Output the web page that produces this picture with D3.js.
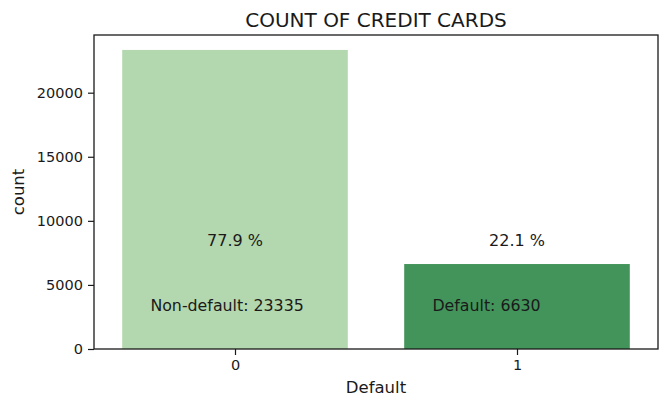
<!DOCTYPE html>
<html><head><meta charset="utf-8">
<script src="https://cdn.jsdelivr.net/npm/d3@7"></script>
<style>
body{margin:0;background:#fff;}
text{font-family:"DejaVu Sans",sans-serif;fill:#1a1a1a;}
</style></head>
<body><svg id="c" width="668" height="408"></svg>
<script>
const categories = ["0", "1"];
const counts = [23335, 6630];
const labels = ["Non-default", "Default"];
const percents = ["77.9 %", "22.1 %"];
const yTicks = [0, 5000, 10000, 15000, 20000];
const colors = ["#b3d7ae", "#43945a"];
const pctY = 8000, lblY = 3000;

const svg = d3.select("#c");
const m = {l:94, r:658, t:35, b:349};
const x = d3.scaleLinear().domain([-0.5, 1.5]).range([m.l, m.r]);
const y = d3.scaleLinear().domain([0, d3.max(counts)*1.05]).range([m.b, m.t]);

svg.selectAll("rect.bar").data(counts).join("rect")
  .attr("x", (d,i)=>x(i-0.4)).attr("width", (d,i)=>x(i+0.4)-x(i-0.4))
  .attr("y", d=>y(d)).attr("height", d=>y(0)-y(d))
  .attr("fill", (d,i)=>colors[i]);

// axes
const yAxis = d3.axisLeft(y).tickValues(yTicks).tickSize(6).tickPadding(5).tickFormat(d3.format("d"));
const gy = svg.append("g").attr("transform",`translate(${m.l},0)`).call(yAxis);
gy.attr("font-size", null).attr("font-family", null);
gy.select(".domain").remove();
gy.selectAll("line").attr("stroke","#1a1a1a").attr("stroke-width",1.2);
gy.selectAll("text").style("font-size","14.5px").style("fill","#1a1a1a");

const xAxis = d3.axisBottom(x).tickValues(categories.map((c,i)=>i)).tickFormat((d,i)=>categories[i]).tickSize(6).tickPadding(5);
const gx = svg.append("g").attr("transform",`translate(0,${m.b})`).call(xAxis);
gx.attr("font-size", null).attr("font-family", null);
gx.select(".domain").remove();
gx.selectAll("line").attr("stroke","#1a1a1a").attr("stroke-width",1.2);
gx.selectAll("text").style("font-size","14.5px").style("fill","#1a1a1a");

svg.append("rect").attr("x",m.l).attr("y",m.t).attr("width",m.r-m.l).attr("height",m.b-m.t)
  .attr("fill","none").attr("stroke","#1a1a1a").attr("stroke-width",1.3);

// annotations
svg.selectAll("text.pct").data(percents).join("text").attr("class","pct")
  .attr("x",(d,i)=>x(i)).attr("y",y(pctY)).attr("text-anchor","middle")
  .style("font-size","16px").text(d=>d);
svg.selectAll("text.lbl").data(counts).join("text").attr("class","lbl")
  .attr("x",(d,i)=>x(i-0.3)).attr("y",y(lblY)).attr("text-anchor","start")
  .style("font-size","15.8px").text((d,i)=>`${labels[i]}: ${d}`);

// titles
svg.append("text").attr("x",(m.l+m.r)/2).attr("y",27).attr("text-anchor","middle")
  .style("font-size","20px").text("COUNT OF CREDIT CARDS");
svg.append("text").attr("x",(m.l+m.r)/2).attr("y",393).attr("text-anchor","middle")
  .style("font-size","16.5px").text("Default");
svg.append("text").attr("transform",`translate(24,${(m.t+m.b)/2}) rotate(-90)`).attr("text-anchor","middle")
  .style("font-size","16.5px").text("count");
</script></body></html>
